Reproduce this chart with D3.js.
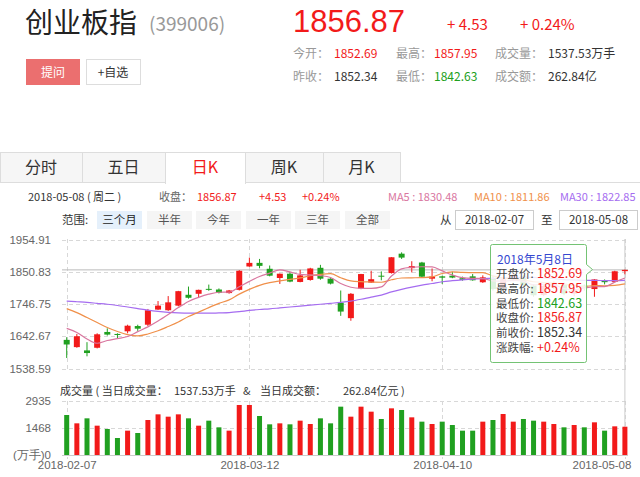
<!DOCTYPE html>
<html>
<head>
<meta charset="utf-8">
<script src="https://cdn.jsdelivr.net/npm/d3@7"></script>
<style>
  body { margin: 0; background: #fff; }
  svg { display: block; font-family: "Noto Sans CJK SC", "Microsoft YaHei", sans-serif; }
</style>
</head>
<body>
<svg width="640" height="477"></svg>
<script>
// ---- data ----
const dates = [
  "2018-02-07","2018-02-08","2018-02-09","2018-02-12","2018-02-13","2018-02-14","2018-02-22","2018-02-23","2018-02-26","2018-02-27","2018-02-28",
  "2018-03-01","2018-03-02","2018-03-05","2018-03-06","2018-03-07","2018-03-08","2018-03-09","2018-03-12","2018-03-13","2018-03-14","2018-03-15",
  "2018-03-16","2018-03-19","2018-03-20","2018-03-21","2018-03-22","2018-03-23","2018-03-26","2018-03-27","2018-03-28","2018-03-29","2018-03-30",
  "2018-04-02","2018-04-03","2018-04-04","2018-04-09","2018-04-10","2018-04-11","2018-04-12","2018-04-13","2018-04-16","2018-04-17","2018-04-18",
  "2018-04-19","2018-04-20","2018-04-23","2018-04-24","2018-04-25","2018-04-26","2018-04-27","2018-05-02","2018-05-03","2018-05-04","2018-05-07","2018-05-08"
];
const opens = [1631.0,1607.6,1597.0,1605.5,1656.5,1650.1,1658.6,1675.6,1679.9,1728.7,1726.6,1741.4,1776.5,1779.7,1795.6,1793.5,1782.0,1792.4,1867.8,1879.5,1860.4,1830.7,
  1844.5,1817.9,1824.3,1863.6,1828.5,1751.0,1701.1,1796.7,1815.8,1838.1,1846.6,1909.2,1862.5,1880.6,1828.5,1836.0,1838.1,1830.0,1836.0,1816.9,1831,1800,
  1827,1836,1806,1776,1800,1812,1780,1806,1795,1822,1818,1852.69];
const highs = [1639.5,1650.1,1623.6,1652.2,1668.2,1652.2,1679.9,1679.9,1730.8,1756.3,1772.3,1789.2,1803.0,1793.0,1809.4,1797.0,1792.0,1856.1,1896.5,1892.2,1871.0,1845.0,
  1849.8,1857.2,1863.6,1873.1,1830.0,1790.3,1782.0,1844.0,1854.0,1851.9,1898.0,1913.5,1884.8,1882.7,1861.5,1838.0,1850.8,1835.0,1843.4,1839.2,1838,1830,
  1845,1840,1810,1808,1820,1816,1796,1810,1827,1826,1854,1857.95];
const lows = [1572.6,1605.5,1577.9,1603.4,1644.8,1636.0,1652.2,1660.0,1675.6,1727.6,1724.5,1739.0,1764.0,1769.1,1789.4,1780.8,1780.0,1790.3,1866.7,1862.0,1836.0,1811.5,
  1817.0,1816.8,1822.0,1825.0,1810.0,1708.5,1692.6,1794.5,1815.0,1823.2,1845.0,1892.2,1848.7,1832.8,1820.1,1811.5,1830.0,1822.0,1822.0,1814.7,1790,1795,
  1820,1805,1770,1772,1795,1775,1772,1790,1770,1810,1816.8,1842.63];
const closes = [1616.1,1642.7,1588.5,1649.0,1648.0,1646.8,1676.7,1667.1,1726.6,1741.5,1752.1,1788.2,1766.9,1792.4,1792.4,1782.9,1790.4,1854.0,1879.5,1869.8,1838.1,1844.5,
  1819.0,1839.2,1861.5,1828.5,1812.6,1722.3,1779.7,1843.4,1826.8,1837.0,1897.6,1896.5,1869.0,1834.9,1835.3,1831.7,1832.0,1824.5,1823.3,1832.8,1795,1826,
  1838,1808,1775,1805,1815,1780,1791.2,1800,1826,1817.2,1852.34,1856.87];
// volume, 万手
const volumes = [2174,1721,1993,1594,1413,924,1323,1196,1902,2210,2083,2210,1993,1594,1866,1504,1323,2718,2718,2120,1667,1721,
  1667,1866,1685,1993,1721,2627,2083,2627,2355,1957,2536,2446,2047,1812,1685,1812,1630,1323,1323,1812,1902,2228,
  1812,1957,1866,1812,1685,1504,1630,1504,1776,1323,1558,1537.53];
const ma5 = [1668,1655,1634,1620,1628.9,1635.0,1641.8,1657.5,1673.0,1691.7,1712.8,1735.1,1755.1,1768.2,1778.4,1784.6,1785.0,1802.4,1819.8,1835.3,1846.4,1857.2,
  1850.2,1842.1,1840.5,1838.5,1832.2,1812.8,1800.9,1797.3,1797.0,1801.8,1836.9,1860.3,1865.4,1867.0,1866.7,1853.5,1840.6,1831.7,1829.4,1828.9,1821.5,1820.3,
  1823.0,1820.0,1808.4,1810.4,1808.2,1796.6,1793.2,1798.2,1802.4,1802.9,1817.3,1830.48];
const ma10 = [1732,1719,1703,1687,1671,1658,1648,1644,1650,1660.3,1673.9,1688.5,1706.3,1720.6,1735.1,1748.7,1760.1,1778.7,1794.0,1806.9,1815.5,1821.1,
  1826.3,1831.0,1837.9,1842.5,1844.7,1831.5,1821.5,1818.9,1817.8,1817.0,1824.9,1830.6,1831.3,1832.0,1834.3,1845.2,1850.4,1848.5,1848.2,1847.8,1837.5,1830.5,
  1827.4,1824.7,1818.6,1816.0,1814.3,1809.8,1806.6,1803.3,1806.4,1805.5,1807.0,1811.86];
const ma30 = [1756,1754,1752,1749,1746,1742,1737,1732,1727,1723,1720,1718,1717,1717,1717,1718,1719,1722,1726,1729,1731,1734,
  1737,1740,1743,1746,1749,1752,1756,1762.0,1769.0,1775.5,1785.8,1794.1,1801.4,1807.7,1813.0,1818.5,1822.0,1824.8,1827.1,1828.6,1829.6,1830.7,
  1832.2,1833.0,1832.5,1830.9,1828.7,1825.7,1824.2,1822.7,1822.9,1822.2,1821.9,1822.85];
const priceTicks = [1538.59, 1642.67, 1746.75, 1850.83, 1954.91];
const volTicks = [0, 1468, 2935];
const axisDates = ["2018-02-07", "2018-03-12", "2018-04-10", "2018-05-08"];
const tabs = ["分时", "五日", "日K", "周K", "月K"];
const ranges = ["三个月", "半年", "今年", "一年", "三年", "全部"];

const RED = "#f21a1a", GREEN = "#20a020";
const C5 = "#d9769f", C10 = "#f0904a", C30 = "#a56cf0";

const svg = d3.select("svg");

function txt(x, y, s, size, fill, anchor) {
  return svg.append("text").attr("x", x).attr("y", y).attr("font-size", size)
    .attr("fill", fill).attr("text-anchor", anchor || "start").text(s);
}

// ---- header ----
txt(25, 33, "创业板指", 28, "#222");
txt(149, 31, "(399006)", 19, "#999");
txt(293, 32, "1856.87", 31, RED).attr("font-family", "'Liberation Sans', Arial, sans-serif");
txt(447, 30, "+ 4.53", 15, RED);
txt(520, 30, "+ 0.24%", 15, RED);

const hdr = [
  [293, 58, "今开：", "#999"], [334, 58, "1852.69", RED], [396, 58, "最高：", "#999"], [434, 58, "1857.95", RED],
  [495, 58, "成交量：", "#999"], [548, 58, "1537.53万手", "#333"],
  [293, 81, "昨收：", "#999"], [334, 81, "1852.34", "#333"], [396, 81, "最低：", "#999"], [434, 81, "1842.63", GREEN],
  [495, 81, "成交额：", "#999"], [548, 81, "262.84亿", "#333"]
];
hdr.forEach(d => txt(d[0], d[1], d[2], 12, d[3]));

svg.append("rect").attr("x", 26).attr("y", 59).attr("width", 54).attr("height", 26).attr("fill", "#eb6f6f");
txt(53, 77, "提问", 12, "#fff", "middle");
svg.append("rect").attr("x", 86.5).attr("y", 59.5).attr("width", 54).attr("height", 25)
  .attr("fill", "#fff").attr("stroke", "#ddd");
txt(113, 77, "+自选", 12, "#333", "middle");

// ---- tabs ----
const tabX = [0, 82, 165, 245, 323, 400];
svg.append("line").attr("x1", 0).attr("x2", 640).attr("y1", 182.5).attr("y2", 182.5).attr("stroke", "#ddd");
tabs.forEach((t, i) => {
  const sel = i === 2;
  svg.append("rect").attr("x", tabX[i] + 0.5).attr("y", 152.5).attr("width", tabX[i + 1] - tabX[i])
    .attr("height", sel ? 31 : 30).attr("fill", sel ? "#fff" : "#f6f6f6").attr("stroke", "#ddd");
  txt((tabX[i] + tabX[i + 1]) / 2, 173, t, 16, sel ? RED : "#333", "middle");
});
svg.append("rect").attr("x", tabX[2] + 1).attr("y", 181).attr("width", tabX[3] - tabX[2] - 1).attr("height", 3).attr("fill", "#fff");

// ---- info rows ----
txt(28, 201, "2018-05-08 ( 周二 )", 11, "#333");
txt(159, 201, "收盘：", 11, "#666");
txt(197, 201, "1856.87", 11, RED);
txt(259, 201, "+4.53", 11, RED);
txt(302, 201, "+0.24%", 11, RED);
txt(388, 201, "MA5 : 1830.48", 11, C5);
txt(474, 201, "MA10 : 1811.86", 11, C10);
txt(560, 201, "MA30 : 1822.85", 11, C30);

txt(62, 224, "范围:", 11.5, "#333");
const rangeX = [97, 147, 196, 246, 295, 345];
ranges.forEach((r, i) => {
  svg.append("rect").attr("x", rangeX[i]).attr("y", 211).attr("width", 45).attr("height", 18)
    .attr("fill", i === 0 ? "#e5f0fb" : "#f5f5f5");
  txt(rangeX[i] + 22.5, 224, r, 11.5, i === 0 ? "#222" : "#555", "middle");
});
txt(440, 224, "从", 11.5, "#333");
svg.append("rect").attr("x", 455.5).attr("y", 210.5).attr("width", 78).attr("height", 19).attr("fill", "#fff").attr("stroke", "#ccc");
txt(494.5, 224, "2018-02-07", 11.5, "#333", "middle");
txt(541, 224, "至", 11.5, "#333");
svg.append("rect").attr("x", 559.5).attr("y", 210.5).attr("width", 78).attr("height", 19).attr("fill", "#fff").attr("stroke", "#ccc");
txt(598.5, 224, "2018-05-08", 11.5, "#333", "middle");

// ---- scales ----
const x = d3.scalePoint().domain(dates).range([66.7, 624.9]);
const y = d3.scaleLinear().domain([1538.59, 1954.91]).range([368.5, 239.5]);
const yv = d3.scaleLinear().domain([0, 2935]).range([455, 401]);
const gridL = 62, gridR = 628;

// grid
svg.append("g").selectAll("line").data(priceTicks).join("line")
  .attr("x1", gridL).attr("x2", gridR).attr("y1", d => Math.round(y(d)) + 0.5).attr("y2", d => Math.round(y(d)) + 0.5)
  .attr("stroke", "#d8d8d8").attr("stroke-dasharray", "4,3");
svg.append("g").selectAll("line").data(volTicks.slice(1)).join("line")
  .attr("x1", gridL).attr("x2", gridR).attr("y1", d => Math.round(yv(d)) + 0.5).attr("y2", d => Math.round(yv(d)) + 0.5)
  .attr("stroke", "#d8d8d8").attr("stroke-dasharray", "4,3");
axisDates.forEach(d => {
  const xx = Math.round(x(d)) + 0.5;
  svg.append("line").attr("x1", xx).attr("x2", xx).attr("y1", 239).attr("y2", 369)
    .attr("stroke", "#d8d8d8").attr("stroke-dasharray", "4,3");
  svg.append("line").attr("x1", xx).attr("x2", xx).attr("y1", 401).attr("y2", 459)
    .attr("stroke", "#d8d8d8").attr("stroke-dasharray", "4,3");
});
svg.append("line").attr("x1", gridL).attr("x2", gridR).attr("y1", 455.5).attr("y2", 455.5).attr("stroke", "#ccc");

// axes
const yAxis = svg.append("g").attr("transform", `translate(${gridL},0)`)
  .call(d3.axisLeft(y).tickValues(priceTicks).tickSize(0).tickPadding(11).tickFormat(d3.format(".2f")));
const vAxis = svg.append("g").attr("transform", `translate(${gridL},0)`)
  .call(d3.axisLeft(yv).tickValues(volTicks).tickSize(0).tickPadding(11).tickFormat(d => d === 0 ? "(万手)0" : d));
const xAxis = svg.append("g").attr("transform", "translate(0,455)")
  .call(d3.axisBottom(x).tickValues(axisDates).tickSize(0).tickPadding(6));
[yAxis, vAxis, xAxis].forEach(a => {
  a.select(".domain").remove();
  a.selectAll("text").attr("font-size", 11.5).attr("fill", "#666").attr("font-family", null);
});
xAxis.selectAll("text").filter(d => d === "2018-05-08").attr("text-anchor", "end").attr("dx", 6);

// crosshair
svg.append("line").attr("x1", gridL).attr("x2", gridR).attr("y1", y(1856.87)).attr("y2", y(1856.87)).attr("stroke", "#bbb");
svg.append("line").attr("x1", x("2018-05-08")).attr("x2", x("2018-05-08")).attr("y1", 239).attr("y2", 455).attr("stroke", "#ccc");

// candles
const idx = d3.range(dates.length);
const col = i => closes[i] >= opens[i] ? RED : GREEN;
const cg = svg.append("g");
cg.selectAll("line").data(idx).join("line")
  .attr("x1", i => x(dates[i])).attr("x2", i => x(dates[i]))
  .attr("y1", i => y(highs[i])).attr("y2", i => y(lows[i]))
  .attr("stroke", col).attr("stroke-width", 1);
cg.selectAll("rect").data(idx).join("rect")
  .attr("x", i => x(dates[i]) - 3).attr("width", 6)
  .attr("y", i => y(Math.max(opens[i], closes[i])))
  .attr("height", i => Math.max(1, Math.abs(y(opens[i]) - y(closes[i]))))
  .attr("fill", col);

// MA lines
const line = d3.line().x((v, i) => x(dates[i])).y(v => y(v)).curve(d3.curveMonotoneX);
[[ma30, C30], [ma10, C10], [ma5, C5]].forEach(([arr, c]) => {
  svg.append("path").attr("d", line(arr)).attr("fill", "none").attr("stroke", c).attr("stroke-width", 1.2);
});

// volume
txt(60, 395, "成交量 ( 当日成交量：", 11, "#333");
txt(174, 395, "1537.53万手", 11, "#333");
txt(243, 395, "&", 11, "#333");
txt(260, 395, "当日成交额：", 11, "#333");
txt(343, 395, "262.84亿元 )", 11, "#333");
svg.append("g").selectAll("rect").data(idx).join("rect")
  .attr("x", i => x(dates[i]) - 2.5).attr("width", 5)
  .attr("y", i => yv(volumes[i])).attr("height", i => yv(0) - yv(volumes[i]))
  .attr("fill", col);

// tooltip
const tip = svg.append("g");
tip.append("path")
  .attr("d", "M490.5,246.5 q0,-2 2,-2 h92 q2,0 2,2 v18 l6,5 l-6,5 v86 q0,2 -2,2 h-92 q-2,0 -2,-2 z")
  .attr("fill", "#fff").attr("fill-opacity", 0.86).attr("stroke", "#74c374");
txt(497, 264, "2018年5月8日", 12, "#3548d0");
const tipRows = [
  ["开盘价：", "1852.69", RED], ["最高价：", "1857.95", RED], ["最低价：", "1842.63", GREEN],
  ["收盘价：", "1856.87", RED], ["前收价：", "1852.34", "#333"], ["涨跌幅：", "+0.24%", RED]
];
tipRows.forEach((r, i) => {
  const t = tip.append("text").attr("x", 496).attr("y", 278 + i * 14.8).attr("font-size", 12);
  t.append("tspan").attr("fill", "#444").attr("font-size", 11.5).text(r[0].replace("：", ":"));
  t.append("tspan").attr("x", 537).attr("fill", r[2]).attr("font-size", 12.5).text(r[1]);
});
</script>
</body>
</html>
